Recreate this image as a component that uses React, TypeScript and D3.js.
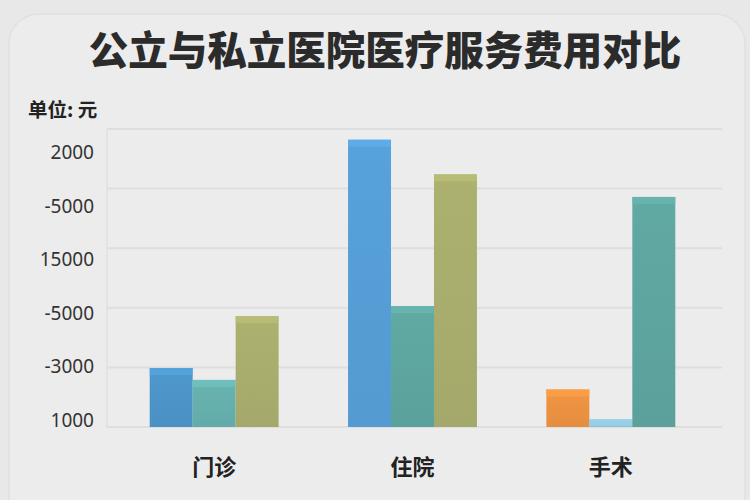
import React from "react";
import * as d3 from "d3";

const categories = ["门诊", "住院", "手术"];
const seriesA = [4950, 24100, 3150];
const seriesB = [3950, 10150, 650];
const seriesC = [9300, 21200, 19300];
const colorsA = ["#4c95c9", "#559fd6", "#ec9242"];
const colorsB = ["#66b0ad", "#5ea6a0", "#8cc0d6"];
const colorsC = ["#a9ad6d", "#a9ad6d", "#5fa5a0"];
const tickLabels = ["2000", "-5000", "15000", "-5000", "-3000", "1000"];
const gridValues = [0, 5000, 10000, 15000, 20000, 25000];

export default function App() {
  const W = 750, H = 500;
  const left = 107, right = 722, top = 129, bottom = 427;
  const y = d3.scaleLinear().domain([0, 25000]).range([bottom, top]);
  const x = d3.scaleBand<string>().domain(categories).range([115, 710]).paddingInner(0.35).paddingOuter(0.175);
  const sub = d3.scaleBand<string>().domain(["A", "B", "C"]).range([0, x.bandwidth()]);
  const labelY = d3.scalePoint<string>().domain(tickLabels.map((_, i) => String(i))).range([152, 420]);
  const series = [
    { key: "A", values: seriesA, colors: colorsA },
    { key: "B", values: seriesB, colors: colorsB },
    { key: "C", values: seriesC, colors: colorsC },
  ];
  const gid = (s: string, i: number) => `g-${s}-${i}`;
  return (
    <svg width={W} height={H} style={{ position: "fixed", left: 0, top: 0, display: "block" }}>
      <defs>
        {series.map((s) =>
          s.colors.map((c, i) => (
            <linearGradient key={gid(s.key, i)} id={gid(s.key, i)} x1="0" y1="0" x2="0" y2="1">
              <stop offset="0%" stopColor={d3.color(c)!.brighter(0.06).formatHex()} />
              <stop offset="100%" stopColor={d3.color(c)!.darker(0.08).formatHex()} />
            </linearGradient>
          ))
        )}
      </defs>
      <rect x={0} y={0} width={W} height={H} fill="#e8e8e8" />
      <rect x={9} y={14} width={736} height={520} rx={30} fill="#ececec" stroke="#e0e0e0" strokeWidth={1.5} />
      <text x={385} y={65} textAnchor="middle" fontFamily="'Noto Sans CJK SC', sans-serif" fontWeight={900} fontSize={39.5} fill="#2b2b2b">
        公立与私立医院医疗服务费用对比
      </text>
      <text x={28} y={117} fontFamily="'Noto Sans CJK SC', sans-serif" fontWeight={700} fontSize={19.5} fill="#222">
        单位: 元
      </text>
      {gridValues.map((v) => (
        <line key={v} x1={left} x2={right} y1={y(v)} y2={y(v)} stroke="#dedede" strokeWidth={2} />
      ))}
      <line x1={left} x2={left} y1={top} y2={bottom} stroke="#e0e0e0" strokeWidth={1.5} />
      {tickLabels.map((t, i) => (
        <text key={i} x={94} y={labelY(String(i))! + 7} textAnchor="end" fontFamily="'Noto Sans', sans-serif" fontSize={19} fill="#333">
          {t}
        </text>
      ))}
      {series.map((s) =>
        s.values.map((v, i) => {
          const bx = x(categories[i])! + sub(s.key)!;
          const bw = sub.bandwidth();
          const by = y(v);
          const bh = bottom - by;
          const c = s.colors[i];
          return (
            <g key={s.key + i}>
              <rect x={bx} y={by} width={bw} height={bh} fill={`url(#${gid(s.key, i)})`} />
              <rect x={bx} y={by} width={bw} height={Math.min(7, bh)} fill={d3.color(c)!.brighter(0.3).formatHex()} opacity={0.7} />
            </g>
          );
        })
      )}
      {categories.map((c) => (
        <text key={c} x={x(c)! + x.bandwidth() / 2} y={475} textAnchor="middle" fontFamily="'Noto Sans CJK SC', sans-serif" fontWeight={700} fontSize={22} fill="#222">
          {c}
        </text>
      ))}
    </svg>
  );
}
